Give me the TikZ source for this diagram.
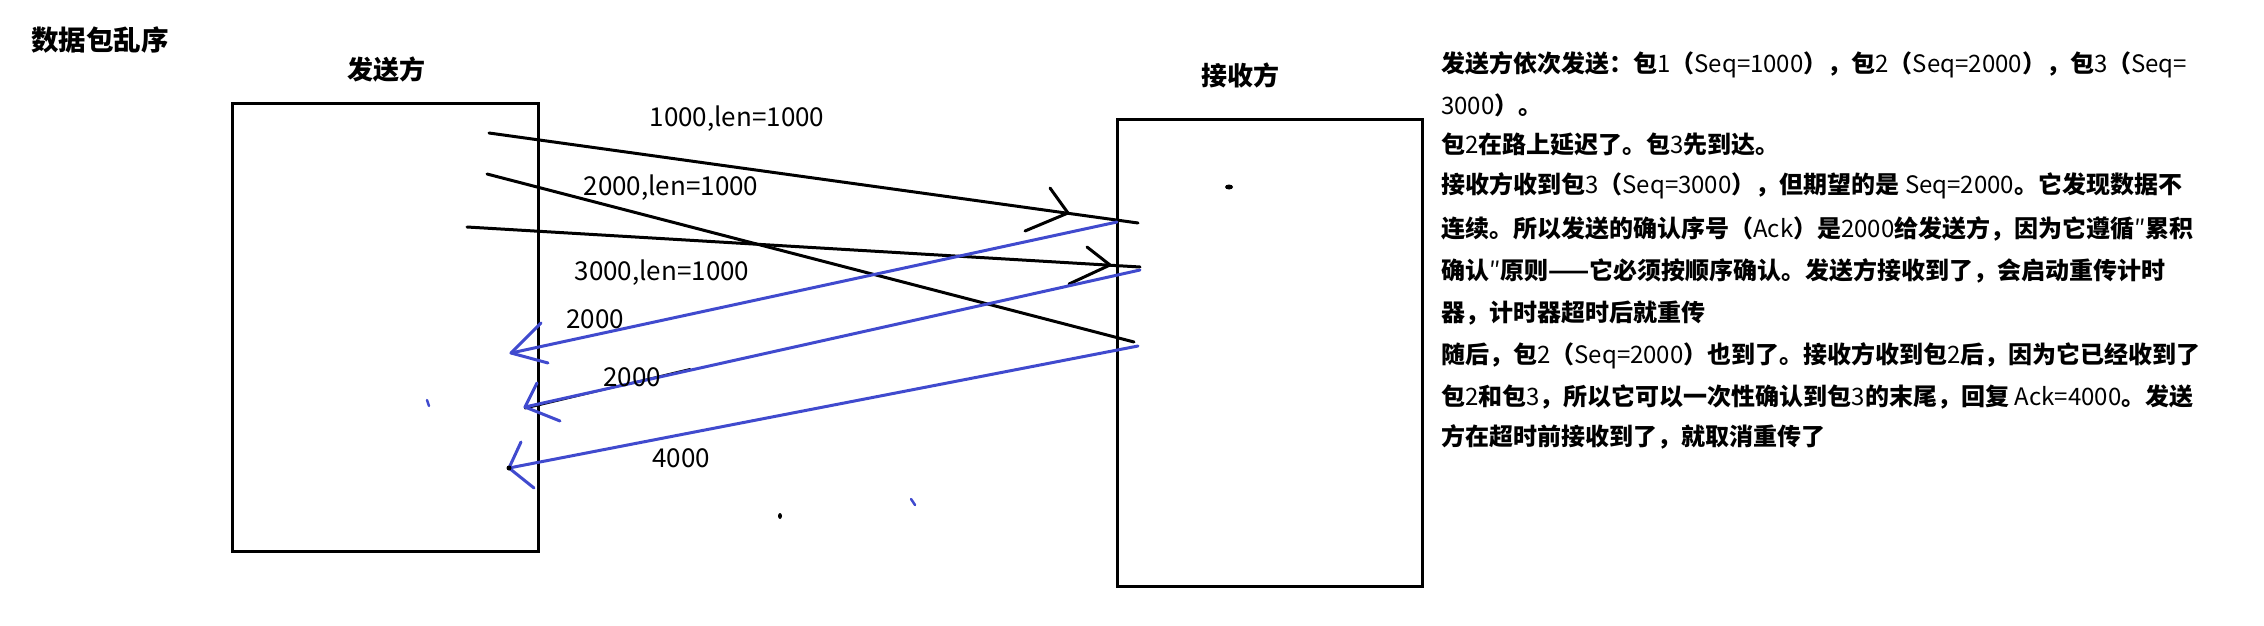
\documentclass[tikz,border=0pt]{standalone}
\usepackage{fontspec}
\setmainfont{Noto Sans CJK SC}
\definecolor{ackblue}{RGB}{64,74,206}
\newcommand{\ml}[1]{{\mdseries #1}}
\newcommand{\dq}{{\mdseries\symbol{"2033}}}
\begin{document}
\begin{tikzpicture}[x=1pt,y=-1pt,
  frame/.style={draw=black, line width=3pt, inner sep=0pt, fill=none},
  pkt/.style={draw=black, line width=3pt, line cap=round, line join=round},
  ack/.style={draw=ackblue, line width=3pt, line cap=round, line join=round},
  lbl/.style={font=\fontsize{26}{30}\selectfont, inner sep=0pt},
  head/.style={font=\fontsize{26}{30}\selectfont\bfseries, inner sep=0pt},
  para/.style={font=\fontsize{24}{28}\selectfont\bfseries, anchor=west, inner sep=0pt, text height=19pt, text depth=5pt}]
\useasboundingbox (0,0) rectangle (2264,626);
% title and headers
\node[head, font=\fontsize{27.5}{32}\selectfont\bfseries, anchor=west] (title) at (31,40) {数据包乱序};
\node[head] (sndh) at (386,70) {发送方};
\node[head] (rcvh) at (1240,75) {接收方};
% boxes
\node[frame, minimum width=306pt, minimum height=448pt] (snd) at (385,327) {};
\node[frame, minimum width=305pt, minimum height=467pt] (rcv) at (1269.5,352.5) {};
% packet endpoints
\coordinate (p1s) at (489,133); \coordinate (p1e) at (1138,223);
\coordinate (p2s) at (487,174); \coordinate (p2e) at (1134,342);
\coordinate (p3s) at (467,227); \coordinate (p3e) at (1140,267);
% ack endpoints
\coordinate (a1s) at (1117,222); \coordinate (a1e) at (511,353);
\coordinate (a2s) at (1140,270); \coordinate (a2e) at (525,407);
\coordinate (a3s) at (1138,346); \coordinate (a3e) at (509,468);
% packets
\draw[pkt] (p1s) -- (p1e);
\draw[pkt] (p2s) -- (p2e);
\draw[pkt] (p3s) -- (p3e);
\draw[pkt] (1050,188) -- (1068,213) -- (1025,231);
\draw[pkt] (1087,247) -- (1110,265) -- (1069,284);
% acks
\draw[pkt, line width=2pt] (a2e) ++(0,1.5) -- (690,369);
\draw[ack] (a1s) -- (a1e);
\draw[ack] (541,323) -- (a1e) -- (548,363);
\draw[ack] (a2s) -- (a2e);
\draw[ack] (537,383) -- (a2e) -- (560,421);
\draw[ack] (a3s) -- (a3e);
\draw[ack] (521,442) -- (a3e) -- (534,488);
\fill[black] (a3e) circle (2.5);
% labels
\node[lbl] (l1) at (737,119) {1000,len=1000};
\node[lbl] (l2) at (671,188) {2000,len=1000};
\node[lbl] (l3) at (662,273) {3000,len=1000};
\node[lbl] (l4) at (595,319) {2000};
\node[lbl] (l5) at (632,377) {2000};
\node[lbl] (l6) at (681,458) {4000};
% stray marks
\fill[black] (780,516) ellipse (2 and 3);
\fill[black] (1229,187) ellipse (4 and 2.5);
\draw[ackblue, line width=2.5pt, line cap=round] (427,400) -- (429,406);
\draw[ackblue, line width=2.5pt, line cap=round] (911,499) -- (915,505);
% paragraph
\node[para] (t1) at (1441,66) {发送方依次发送：包\ml{1}（\ml{Seq=1000}），包\ml{2}（\ml{Seq=2000}），包\ml{3}（\ml{Seq=}};
\node[para] (t2) at (1441,107) {\ml{3000}）。};
\node[para] (t3) at (1441,146) {包\ml{2}在路上延迟了。包\ml{3}先到达。};
\node[para] (t4) at (1441,186) {接收方收到包\ml{3}（\ml{Seq=3000}），但期望的是 \ml{Seq=2000}。它发现数据不};
\node[para] (t5) at (1441,230) {连续。所以发送的确认序号（\ml{Ack}）是\ml{2000}给发送方，因为它遵循\dq 累积};
\node[para] (t6) at (1441,272) {确认\dq 原则——它必须按顺序确认。发送方接收到了，会启动重传计时};
\node[para] (t7) at (1441,314) {器，计时器超时后就重传};
\node[para] (t8) at (1441,356) {随后，包\ml{2}（\ml{Seq=2000}）也到了。接收方收到包\ml{2}后，因为它已经收到了};
\node[para] (t9) at (1441,398) {包\ml{2}和包\ml{3}，所以它可以一次性确认到包\ml{3}的末尾，回复 \ml{Ack=4000}。发送};
\node[para] (t10) at (1441,438) {方在超时前接收到了，就取消重传了};
\end{tikzpicture}
\end{document}
